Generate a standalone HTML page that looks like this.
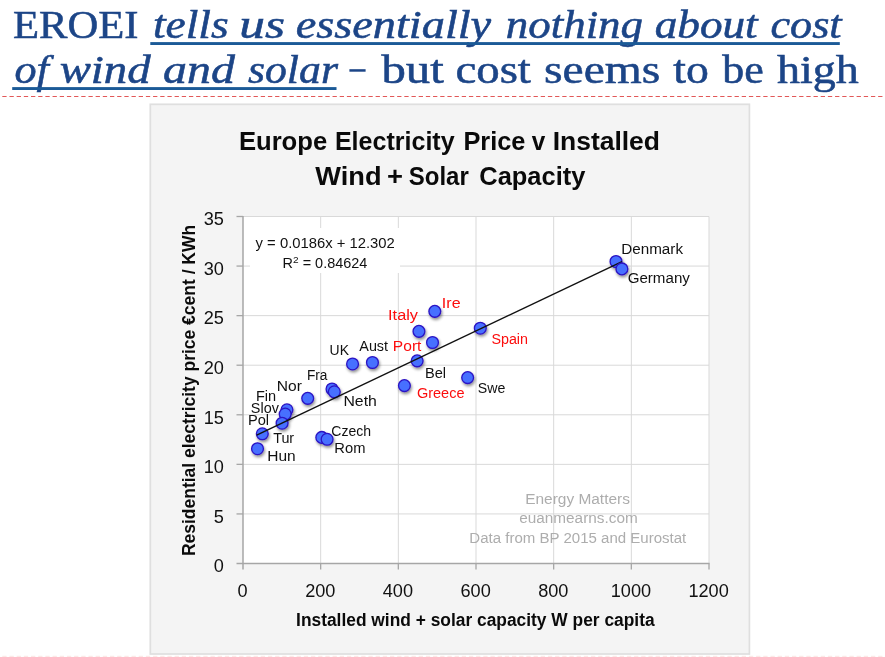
<!DOCTYPE html>
<html><head><meta charset="utf-8"><title>EROEI slide</title>
<style>html,body{margin:0;padding:0;background:#fff;}body{width:885px;height:657px;overflow:hidden;}svg{display:block;}
text{font-family:"Liberation Sans",sans-serif;}
.s{font-family:"Liberation Serif",serif;fill:#1c4587;stroke:#1c4587;stroke-width:0.55px;}.i{font-style:italic;}
.b{font-weight:bold;fill:#0a0a0a;}
.l{font-size:13.8px;fill:#111111;}.r{fill:#fc0d0d;}.g{fill:#adadad;}
.k{font-size:17.5px;fill:#111111;}
</style></head><body>
<svg width="885" height="657" viewBox="0 0 885 657" style="will-change:transform">
<defs><filter id="sh" x="-40%" y="-40%" width="200%" height="200%"><feGaussianBlur in="SourceAlpha" stdDeviation="1.7"/><feOffset dx="0.6" dy="2"/><feComponentTransfer><feFuncA type="linear" slope="0.45"/></feComponentTransfer><feMerge><feMergeNode/><feMergeNode in="SourceGraphic"/></feMerge></filter></defs>
<rect x="0" y="0" width="885" height="657" fill="#ffffff"/>
<text x="12.95" y="37.8" class="s" textLength="125.53" lengthAdjust="spacingAndGlyphs" font-size="40.0">EROEI</text>
<text x="152.90" y="37.8" class="s i" textLength="75.83" lengthAdjust="spacingAndGlyphs" font-size="39.6">tells</text>
<text x="239.25" y="37.8" class="s i" textLength="45.75" lengthAdjust="spacingAndGlyphs" font-size="39.6">us</text>
<text x="295.70" y="37.8" class="s i" textLength="195.5" lengthAdjust="spacingAndGlyphs" font-size="39.6">essentially</text>
<text x="505.75" y="37.8" class="s i" textLength="137.29" lengthAdjust="spacingAndGlyphs" font-size="39.6">nothing</text>
<text x="654.70" y="37.8" class="s i" textLength="103.0" lengthAdjust="spacingAndGlyphs" font-size="39.6">about</text>
<text x="770.40" y="37.8" class="s i" textLength="71.25" lengthAdjust="spacingAndGlyphs" font-size="39.6">cost</text>
<text x="14.40" y="82.6" class="s i" textLength="34.35" lengthAdjust="spacingAndGlyphs" font-size="39.6">of</text>
<text x="59.65" y="82.6" class="s i" textLength="91.0" lengthAdjust="spacingAndGlyphs" font-size="39.6">wind</text>
<text x="163.10" y="82.6" class="s i" textLength="71.75" lengthAdjust="spacingAndGlyphs" font-size="39.6">and</text>
<text x="247.95" y="82.6" class="s i" textLength="90.0" lengthAdjust="spacingAndGlyphs" font-size="39.6">solar</text>
<text x="381.50" y="82.6" class="s" textLength="62.26" lengthAdjust="spacingAndGlyphs" font-size="39.6">but</text>
<text x="455.40" y="82.6" class="s" textLength="75.52" lengthAdjust="spacingAndGlyphs" font-size="39.6">cost</text>
<text x="544.00" y="82.6" class="s" textLength="116.32" lengthAdjust="spacingAndGlyphs" font-size="39.6">seems</text>
<text x="673.20" y="82.6" class="s" textLength="35.56" lengthAdjust="spacingAndGlyphs" font-size="39.6">to</text>
<text x="722.20" y="82.6" class="s" textLength="41.51" lengthAdjust="spacingAndGlyphs" font-size="39.6">be</text>
<text x="776.90" y="82.6" class="s" textLength="81.75" lengthAdjust="spacingAndGlyphs" font-size="39.6">high</text>
<rect x="349.4" y="69.2" width="16.2" height="2.5" fill="#1c4587"/>
<rect x="150.3" y="42.1" width="689.5" height="2.9" fill="#1b5a97"/>
<rect x="12.2" y="87.1" width="324.3" height="2.9" fill="#1b5a97"/>
<line x1="2.3" y1="96.45" x2="883.1" y2="96.45" stroke="#e25858" stroke-width="1.1" stroke-dasharray="4.3 2.879"/>
<line x1="2.3" y1="656.4" x2="883.1" y2="656.4" stroke="#fce9e7" stroke-width="1.1" stroke-dasharray="4.3 2.879"/>
<rect x="150.3" y="104.3" width="599.1" height="549.7" fill="#f4f4f4" stroke="#dfdfdf" stroke-width="1.7"/>
<rect x="243.0" y="216.5" width="466.0" height="347.0" fill="#ffffff"/>
<line x1="320.67" y1="216.5" x2="320.67" y2="563.5" stroke="#d9d9d9" stroke-width="1.0"/>
<line x1="398.33" y1="216.5" x2="398.33" y2="563.5" stroke="#d9d9d9" stroke-width="1.0"/>
<line x1="476.00" y1="216.5" x2="476.00" y2="563.5" stroke="#d9d9d9" stroke-width="1.0"/>
<line x1="553.67" y1="216.5" x2="553.67" y2="563.5" stroke="#d9d9d9" stroke-width="1.0"/>
<line x1="631.33" y1="216.5" x2="631.33" y2="563.5" stroke="#d9d9d9" stroke-width="1.0"/>
<line x1="709.00" y1="216.5" x2="709.00" y2="563.5" stroke="#d9d9d9" stroke-width="1.0"/>
<line x1="243.0" y1="513.93" x2="709.0" y2="513.93" stroke="#d9d9d9" stroke-width="1.0"/>
<line x1="243.0" y1="464.36" x2="709.0" y2="464.36" stroke="#d9d9d9" stroke-width="1.0"/>
<line x1="243.0" y1="414.79" x2="709.0" y2="414.79" stroke="#d9d9d9" stroke-width="1.0"/>
<line x1="243.0" y1="365.21" x2="709.0" y2="365.21" stroke="#d9d9d9" stroke-width="1.0"/>
<line x1="243.0" y1="315.64" x2="709.0" y2="315.64" stroke="#d9d9d9" stroke-width="1.0"/>
<line x1="243.0" y1="266.07" x2="709.0" y2="266.07" stroke="#d9d9d9" stroke-width="1.0"/>
<line x1="243.0" y1="216.50" x2="709.0" y2="216.50" stroke="#d9d9d9" stroke-width="1.0"/>
<rect x="250" y="228" width="150" height="45" fill="#ffffff"/>
<line x1="243.0" y1="215.9" x2="243.0" y2="569.5" stroke="#a6a6a6" stroke-width="1.5"/>
<line x1="236.5" y1="563.5" x2="709.6" y2="563.5" stroke="#a6a6a6" stroke-width="1.3"/>
<line x1="320.67" y1="563.5" x2="320.67" y2="569.5" stroke="#a6a6a6" stroke-width="1.3"/>
<line x1="398.33" y1="563.5" x2="398.33" y2="569.5" stroke="#a6a6a6" stroke-width="1.3"/>
<line x1="476.00" y1="563.5" x2="476.00" y2="569.5" stroke="#a6a6a6" stroke-width="1.3"/>
<line x1="553.67" y1="563.5" x2="553.67" y2="569.5" stroke="#a6a6a6" stroke-width="1.3"/>
<line x1="631.33" y1="563.5" x2="631.33" y2="569.5" stroke="#a6a6a6" stroke-width="1.3"/>
<line x1="709.00" y1="563.5" x2="709.00" y2="569.5" stroke="#a6a6a6" stroke-width="1.3"/>
<line x1="236.5" y1="513.93" x2="243.0" y2="513.93" stroke="#a6a6a6" stroke-width="1.3"/>
<line x1="236.5" y1="464.36" x2="243.0" y2="464.36" stroke="#a6a6a6" stroke-width="1.3"/>
<line x1="236.5" y1="414.79" x2="243.0" y2="414.79" stroke="#a6a6a6" stroke-width="1.3"/>
<line x1="236.5" y1="365.21" x2="243.0" y2="365.21" stroke="#a6a6a6" stroke-width="1.3"/>
<line x1="236.5" y1="315.64" x2="243.0" y2="315.64" stroke="#a6a6a6" stroke-width="1.3"/>
<line x1="236.5" y1="266.07" x2="243.0" y2="266.07" stroke="#a6a6a6" stroke-width="1.3"/>
<line x1="236.5" y1="216.50" x2="243.0" y2="216.50" stroke="#a6a6a6" stroke-width="1.3"/>
<text x="223.9" y="572.2" class="k" text-anchor="end" textLength="10.10" lengthAdjust="spacingAndGlyphs">0</text>
<text x="223.9" y="522.6" class="k" text-anchor="end" textLength="10.10" lengthAdjust="spacingAndGlyphs">5</text>
<text x="223.9" y="473.1" class="k" text-anchor="end" textLength="20.20" lengthAdjust="spacingAndGlyphs">10</text>
<text x="223.9" y="423.5" class="k" text-anchor="end" textLength="20.20" lengthAdjust="spacingAndGlyphs">15</text>
<text x="223.9" y="373.9" class="k" text-anchor="end" textLength="20.20" lengthAdjust="spacingAndGlyphs">20</text>
<text x="223.9" y="324.3" class="k" text-anchor="end" textLength="20.20" lengthAdjust="spacingAndGlyphs">25</text>
<text x="223.9" y="274.8" class="k" text-anchor="end" textLength="20.20" lengthAdjust="spacingAndGlyphs">30</text>
<text x="223.9" y="225.2" class="k" text-anchor="end" textLength="20.20" lengthAdjust="spacingAndGlyphs">35</text>
<text x="242.6" y="596.55" class="k" text-anchor="middle" textLength="10.10" lengthAdjust="spacingAndGlyphs">0</text>
<text x="320.3" y="596.55" class="k" text-anchor="middle" textLength="30.30" lengthAdjust="spacingAndGlyphs">200</text>
<text x="397.9" y="596.55" class="k" text-anchor="middle" textLength="30.30" lengthAdjust="spacingAndGlyphs">400</text>
<text x="475.6" y="596.55" class="k" text-anchor="middle" textLength="30.30" lengthAdjust="spacingAndGlyphs">600</text>
<text x="553.3" y="596.55" class="k" text-anchor="middle" textLength="30.30" lengthAdjust="spacingAndGlyphs">800</text>
<text x="630.9" y="596.55" class="k" text-anchor="middle" textLength="40.40" lengthAdjust="spacingAndGlyphs">1000</text>
<text x="708.6" y="596.55" class="k" text-anchor="middle" textLength="40.40" lengthAdjust="spacingAndGlyphs">1200</text>
<text x="238.90" y="150.0" class="b" textLength="88.31" lengthAdjust="spacingAndGlyphs" font-size="25.6">Europe</text>
<text x="334.90" y="150.0" class="b" textLength="119.77" lengthAdjust="spacingAndGlyphs" font-size="25.6">Electricity</text>
<text x="463.40" y="150.0" class="b" textLength="62.09" lengthAdjust="spacingAndGlyphs" font-size="25.6">Price</text>
<text x="531.75" y="150.0" class="b" textLength="13.51" lengthAdjust="spacingAndGlyphs" font-size="25.6">v</text>
<text x="552.65" y="150.0" class="b" textLength="107.36" lengthAdjust="spacingAndGlyphs" font-size="25.6">Installed</text>
<text x="315.30" y="185.1" class="b" textLength="66.29" lengthAdjust="spacingAndGlyphs" font-size="25.6">Wind</text>
<text x="386.90" y="185.1" class="b" textLength="16.0" lengthAdjust="spacingAndGlyphs" font-size="25.6">+</text>
<text x="408.75" y="185.1" class="b" textLength="60.02" lengthAdjust="spacingAndGlyphs" font-size="25.6">Solar</text>
<text x="479.30" y="185.1" class="b" textLength="106.02" lengthAdjust="spacingAndGlyphs" font-size="25.6">Capacity</text>
<text x="296.10" y="625.8" class="b" textLength="358.5" lengthAdjust="spacingAndGlyphs" font-size="18.0">Installed wind + solar capacity W per capita</text>
<g transform="translate(194.5,556.10) rotate(-90)"><text x="0" y="0" class="b" font-size="17.7" textLength="331.26" lengthAdjust="spacingAndGlyphs">Residential electricity price €cent / KWh</text></g>
<g filter="url(#sh)">
<circle cx="434.8" cy="311.35" r="5.9" fill="#4670ff" stroke="#2a12c4" stroke-width="1.3"/>
<circle cx="418.95" cy="331.35" r="5.9" fill="#4670ff" stroke="#2a12c4" stroke-width="1.3"/>
<circle cx="432.5" cy="342.5" r="5.9" fill="#4670ff" stroke="#2a12c4" stroke-width="1.3"/>
<circle cx="480.3" cy="328.2" r="5.9" fill="#4670ff" stroke="#2a12c4" stroke-width="1.3"/>
<circle cx="417.15" cy="360.85" r="5.9" fill="#4670ff" stroke="#2a12c4" stroke-width="1.3"/>
<circle cx="616.0" cy="261.5" r="5.9" fill="#4670ff" stroke="#2a12c4" stroke-width="1.3"/>
<circle cx="352.55" cy="363.95" r="5.9" fill="#4670ff" stroke="#2a12c4" stroke-width="1.3"/>
<circle cx="372.45" cy="362.5" r="5.9" fill="#4670ff" stroke="#2a12c4" stroke-width="1.3"/>
<circle cx="404.4" cy="385.6" r="5.9" fill="#4670ff" stroke="#2a12c4" stroke-width="1.3"/>
<circle cx="467.65" cy="377.6" r="5.9" fill="#4670ff" stroke="#2a12c4" stroke-width="1.3"/>
<circle cx="307.7" cy="398.35" r="5.9" fill="#4670ff" stroke="#2a12c4" stroke-width="1.3"/>
<circle cx="332.0" cy="389.0" r="5.9" fill="#4670ff" stroke="#2a12c4" stroke-width="1.3"/>
<circle cx="334.3" cy="391.8" r="5.9" fill="#4670ff" stroke="#2a12c4" stroke-width="1.3"/>
<circle cx="286.95" cy="409.8" r="5.9" fill="#4670ff" stroke="#2a12c4" stroke-width="1.3"/>
<circle cx="285.2" cy="414.05" r="5.9" fill="#4670ff" stroke="#2a12c4" stroke-width="1.3"/>
<circle cx="282.1" cy="423.2" r="5.9" fill="#4670ff" stroke="#2a12c4" stroke-width="1.3"/>
<circle cx="262.3" cy="433.8" r="5.9" fill="#4670ff" stroke="#2a12c4" stroke-width="1.3"/>
<circle cx="257.5" cy="448.7" r="5.9" fill="#4670ff" stroke="#2a12c4" stroke-width="1.3"/>
<circle cx="321.8" cy="437.4" r="5.9" fill="#4670ff" stroke="#2a12c4" stroke-width="1.3"/>
<circle cx="327.1" cy="439.3" r="5.9" fill="#4670ff" stroke="#2a12c4" stroke-width="1.3"/>
</g>
<line x1="256.70" y1="435.03" x2="622.00" y2="261.56" stroke="#111111" stroke-width="1.4"/>
<g filter="url(#sh)">
<circle cx="621.9" cy="268.9" r="5.9" fill="#4670ff" stroke="#2a12c4" stroke-width="1.3"/>
</g>
<text x="255.60" y="248.1" class="l" textLength="139.25" lengthAdjust="spacingAndGlyphs" font-size="14.7">y = 0.0186x + 12.302</text>
<text x="282.60" y="267.9" class="l" textLength="84.77" lengthAdjust="spacingAndGlyphs" font-size="14.7">R<tspan dy="-5.2" font-size="9.6">2</tspan><tspan dy="5.2"> = 0.84624</tspan></text>
<text x="621.25" y="253.5" class="l" textLength="61.78" lengthAdjust="spacingAndGlyphs" font-size="13.8">Denmark</text>
<text x="627.65" y="283.4" class="l" textLength="62.26" lengthAdjust="spacingAndGlyphs" font-size="13.8">Germany</text>
<text x="441.85" y="308.3" class="l r" textLength="18.71" lengthAdjust="spacingAndGlyphs" font-size="13.8">Ire</text>
<text x="388.10" y="319.6" class="l r" textLength="29.84" lengthAdjust="spacingAndGlyphs" font-size="13.8">Italy</text>
<text x="392.85" y="350.5" class="l r" textLength="28.55" lengthAdjust="spacingAndGlyphs" font-size="13.8">Port</text>
<text x="491.45" y="343.8" class="l r" textLength="36.57" lengthAdjust="spacingAndGlyphs" font-size="13.8">Spain</text>
<text x="416.95" y="397.6" class="l r" textLength="47.54" lengthAdjust="spacingAndGlyphs" font-size="13.8">Greece</text>
<text x="329.60" y="355.0" class="l" textLength="19.34" lengthAdjust="spacingAndGlyphs" font-size="13.8">UK</text>
<text x="359.30" y="351.2" class="l" textLength="28.75" lengthAdjust="spacingAndGlyphs" font-size="13.8">Aust</text>
<text x="424.90" y="377.6" class="l" textLength="21.15" lengthAdjust="spacingAndGlyphs" font-size="13.8">Bel</text>
<text x="477.85" y="392.8" class="l" textLength="27.56" lengthAdjust="spacingAndGlyphs" font-size="13.8">Swe</text>
<text x="306.90" y="380.3" class="l" textLength="20.54" lengthAdjust="spacingAndGlyphs" font-size="13.8">Fra</text>
<text x="343.45" y="406.4" class="l" textLength="33.39" lengthAdjust="spacingAndGlyphs" font-size="13.8">Neth</text>
<text x="276.85" y="390.6" class="l" textLength="25.07" lengthAdjust="spacingAndGlyphs" font-size="13.8">Nor</text>
<text x="255.90" y="400.7" class="l" textLength="20.19" lengthAdjust="spacingAndGlyphs" font-size="13.8">Fin</text>
<text x="250.85" y="412.5" class="l" textLength="28.03" lengthAdjust="spacingAndGlyphs" font-size="13.8">Slov</text>
<text x="247.90" y="424.5" class="l" textLength="21.18" lengthAdjust="spacingAndGlyphs" font-size="13.8">Pol</text>
<text x="273.15" y="443.3" class="l" textLength="21.01" lengthAdjust="spacingAndGlyphs" font-size="13.8">Tur</text>
<text x="267.25" y="460.9" class="l" textLength="28.4" lengthAdjust="spacingAndGlyphs" font-size="13.8">Hun</text>
<text x="331.25" y="436.3" class="l" textLength="39.8" lengthAdjust="spacingAndGlyphs" font-size="13.8">Czech</text>
<text x="334.30" y="452.7" class="l" textLength="31.11" lengthAdjust="spacingAndGlyphs" font-size="13.8">Rom</text>
<text x="525.15" y="503.9" class="l g" textLength="104.78" lengthAdjust="spacingAndGlyphs" font-size="13.8">Energy Matters</text>
<text x="519.20" y="523.4" class="l g" textLength="118.52" lengthAdjust="spacingAndGlyphs" font-size="13.8">euanmearns.com</text>
<text x="469.30" y="543.2" class="l g" textLength="217.0" lengthAdjust="spacingAndGlyphs" font-size="13.8">Data from BP 2015 and Eurostat</text>
</svg></body></html>
